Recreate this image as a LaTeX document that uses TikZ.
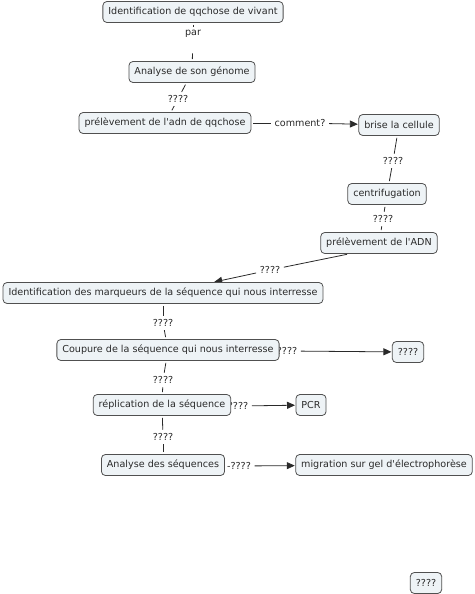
\documentclass[tikz,border=0pt]{standalone}
\usepackage{fontspec}
\setmainfont{DejaVu Sans}[Ligatures=TeXOff]
\usetikzlibrary{arrows.meta,backgrounds}
\definecolor{boxfill}{HTML}{EEF3F6}
\definecolor{boxline}{HTML}{505050}
\definecolor{ink}{HTML}{2A2A2A}
\begin{document}
\begin{tikzpicture}[x=1pt, y=-1pt,
  concept/.style={draw=boxline, fill=boxfill, rounded corners=4pt, line width=0.8pt,
    text=ink, font=\fontsize{9.6}{11}\selectfont, inner xsep=5.5pt, minimum height=21pt},
  phrase/.style={fill=white, text=ink, font=\fontsize{9.6}{11}\selectfont, inner sep=1.5pt},
  link/.style={draw=ink, line width=0.8pt, shorten <=2pt, shorten >=2pt},
  linkto/.style={link, shorten >=0.5pt, -{Triangle[length=8pt,width=7pt]}}]
\useasboundingbox (0,0) rectangle (474,594);
% concepts
\node[concept] (a) at (193,12) {Identification de qqchose de vivant};
\node[concept] (b) at (192,72) {Analyse de son génome};
\node[concept] (c) at (165,123) {prélèvement de l'adn de qqchose};
\node[concept] (d) at (399,125) {brise la cellule};
\node[concept] (e) at (387,194) {centrifugation};
\node[concept] (f) at (379,243) {prélèvement de l'ADN};
\node[concept] (g) at (163,293) {Identification des marqueurs de la séquence qui nous interresse};
\node[concept] (h) at (168,350) {Coupure de la séquence qui nous interresse};
\node[concept] (i) at (408,352) {????};
\node[concept] (j) at (162,405) {réplication de la séquence};
\node[concept] (k) at (311,405) {PCR};
\node[concept] (l) at (163,465) {Analyse des séquences};
\node[concept] (m) at (384,465) {migration sur gel d'électrophorèse};
\node[concept] (n) at (426,583) {????};
% linking phrases and lines, behind the concepts
\begin{pgfonlayer}{background}
\node[phrase] (ab) at (193,34) {par};
\node[phrase] (bc) at (178,99) {????};
\node[phrase] (cd) at (300,123) {comment?};
\node[phrase] (de) at (393,161) {????};
\node[phrase] (ef) at (383,219) {????};
\node[phrase] (fg) at (270,270) {????};
\node[phrase] (gh) at (163,323) {????};
\node[phrase] (hi) at (287,351) {????};
\node[phrase] (hj) at (163,380) {????};
\node[phrase] (jk) at (238,406) {????};
\node[phrase] (jl) at (163,437) {????};
\node[phrase] (lm) at (239,466) {-????};
\draw[link] (a) -- (ab);
\draw[link, shorten <=14pt] (ab) -- (b);
\draw[link] (b) -- (bc);
\draw[link] (bc) -- (c);
\draw[link] (c) -- (cd);
\draw[linkto] (cd) -- (d);
\draw[link] (d) -- (de);
\draw[link] (de) -- (e);
\draw[link] (e) -- (ef);
\draw[link] (ef) -- (f);
\draw[link] (f.200) -- (fg);
\draw[linkto] (fg) -- (g);
\draw[link] (g) -- (gh);
\draw[link] (gh) -- (h);
\draw[link] (h) -- (hi);
\draw[linkto] (hi) -- (i);
\draw[link] (h) -- (hj);
\draw[link] (hj) -- (j);
\draw[link] (j) -- (jk);
\draw[linkto] (jk) -- (k);
\draw[link] (j) -- (jl);
\draw[link] (jl) -- (l);
\draw[link] (l) -- (lm);
\draw[linkto] (lm) -- (m);
\end{pgfonlayer}
\end{tikzpicture}
\end{document}
